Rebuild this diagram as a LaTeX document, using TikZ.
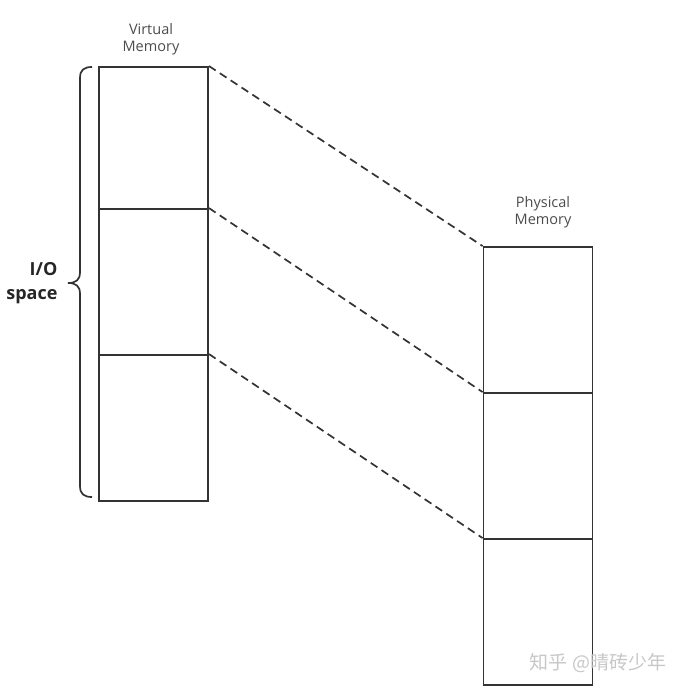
\documentclass[tikz,border=0pt]{standalone}
\usepackage{fontspec}
\setmainfont{Open Sans}
\newfontfamily\cjk{Noto Sans CJK SC}
\begin{document}
\begin{tikzpicture}[x = 1pt, y = -1pt]
    \tikzset{
        cell/.style = {draw = black!80, line width = 1.9pt, minimum width = 109pt, inner sep = 0pt},
        link/.style = {black!80, line width = 1.7pt, dash pattern = on 8pt off 5pt},
        memtitle/.style = {align = center, text = black!70, font = \fontsize{14.5}{17.5}\selectfont},
        brace/.style = {black!80, line width = 1.7pt}
    }
    \useasboundingbox (0, 0) rectangle (690, 692);
    % virtual memory
    \node [cell, minimum height = 142pt] (v1) at (153.5, 138) {};
    \node [cell, minimum height = 146pt] (v2) at (153.5, 282) {};
    \node [cell, minimum height = 146pt] (v3) at (153.5, 428) {};
    \node [memtitle] (vtitle) at (151, 39) {Virtual\\Memory};
    % physical memory
    \node [cell, minimum height = 146pt] (p1) at (538, 320) {};
    \node [cell, minimum height = 146pt] (p2) at (538, 466) {};
    \node [cell, minimum height = 146pt] (p3) at (538, 612) {};
    \node [memtitle] (ptitle) at (543, 212) {Physical\\Memory};
    % mapping
    \draw [link] (v1.north east) -- (p1.north west);
    \draw [link] (v2.north east) -- (p2.north west);
    \draw [link] (v3.north east) -- (p3.north west);
    % I/O space
    \draw [brace] (92, 67) .. controls (84, 67) and (80, 70) .. (80, 78) -- (80, 272)
        .. controls (80, 280) and (76, 283) .. (68, 283)
        .. controls (76, 283) and (80, 286) .. (80, 294) -- (80, 486)
        .. controls (80, 494) and (84, 497) .. (92, 497);
    \node [anchor = east, align = right, text = black!85, font = \fontsize{18}{24}\selectfont\bfseries] (io) at (61, 283) {I/O\\space};
    \node [text = black!22, font = \fontsize{19}{22}\selectfont\cjk] (mark) at (598, 663) {知乎 @晴砖少年};
\end{tikzpicture}
\end{document}
